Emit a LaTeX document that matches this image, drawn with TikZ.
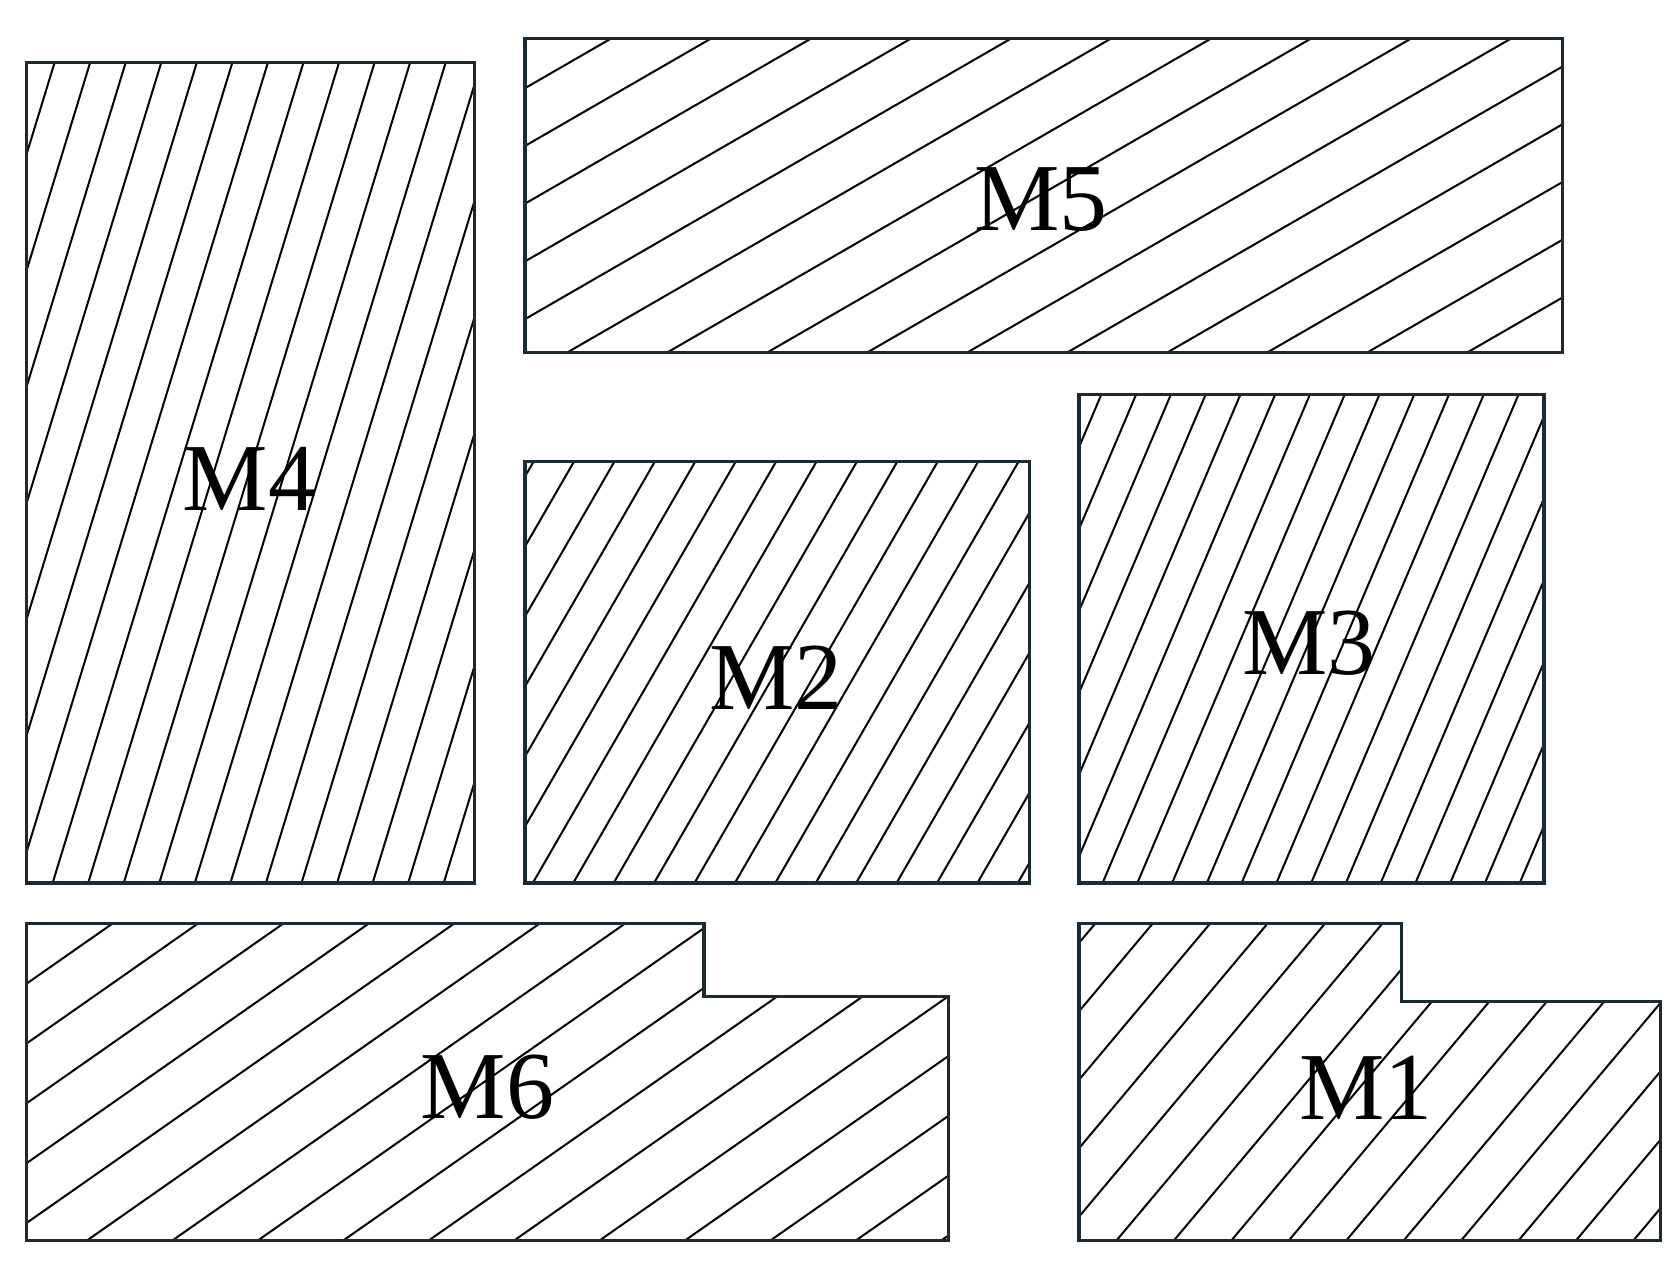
\documentclass[tikz,border=0pt]{standalone}
\usepackage{fontspec}
\setmainfont{Liberation Serif}
\definecolor{edge}{HTML}{1C2B33}
\tikzset{
  part/.style={draw=edge,line width=3.2pt},
  hatchline/.style={draw=black,line width=2pt},
  lab/.style={font=\fontsize{96}{98}\selectfont,inner sep=0pt}
}
% #1 path, #2 cx, #3 cy, #4 angle, #5 spacing
\newcommand{\hatchshape}[5]{%
  \begin{scope}
    \clip #1;
    \foreach \i in {-40,...,40}{
      \draw[hatchline] ({#2+\i*#5*sin(#4)-1500*cos(#4)},{#3+\i*#5*cos(#4)+1500*sin(#4)}) --
                       ({#2+\i*#5*sin(#4)+1500*cos(#4)},{#3+\i*#5*cos(#4)-1500*sin(#4)});
    }
  \end{scope}
  \draw[part] #1;
}
\begin{document}
\begin{tikzpicture}[x=1pt,y=-1pt]
\useasboundingbox (0,0) rectangle (1680,1262);
\fill[white] (0,0) rectangle (1680,1262);
\hatchshape{(26.8,62.1) rectangle (474.6,882.9)}{250}{470}{73}{34}
\hatchshape{(525,38.6) rectangle (1562.1,352.5)}{1040}{195}{30}{50}
\hatchshape{(525,461.8) rectangle (1029.6,882.9)}{777}{670}{60}{35}
\hatchshape{(1078.9,394.3) rectangle (1543.9,882.9)}{1310}{640}{67}{32}
\hatchshape{(26.8,923.6) -- (703.9,923.6) -- (703.9,996.4) -- (948.2,996.4) -- (948.2,1240.7) -- (26.8,1240.7) -- cycle}{487}{1080}{35}{49}
\hatchshape{(1078.9,923.6) -- (1401.4,923.6) -- (1401.4,1001.8) -- (1660.7,1001.8) -- (1660.7,1240.7) -- (1078.9,1240.7) -- cycle}{1366}{1080}{50}{44}
\node[lab] (m4) at (249.6,479) {M4};
\node[lab] (m5) at (1041,200) {M5};
\node[lab] (m2) at (775.7,678) {M2};
\node[lab] (m3) at (1309,643) {M3};
\node[lab] (m6) at (487.5,1087.5) {M6};
\node[lab] (m1) at (1366,1087.5) {M1};
\end{tikzpicture}
\end{document}
